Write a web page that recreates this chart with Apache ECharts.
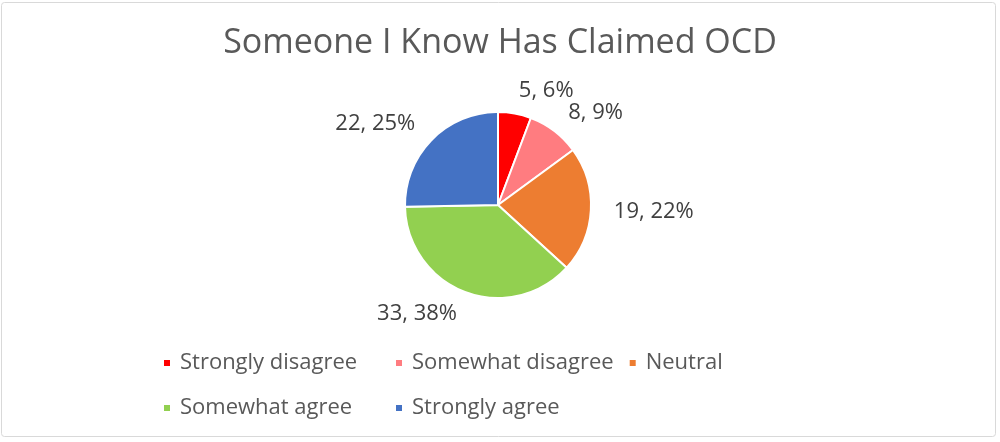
<!DOCTYPE html>
<html>
<head>
<meta charset="utf-8">
<script src="https://cdn.jsdelivr.net/npm/echarts@6/dist/echarts.min.js"></script>
<style>
html,body{margin:0;padding:0;background:#fff;}
#chart{width:1000px;height:442px;}
</style>
</head>
<body>
<div id="chart"></div>
<script>
const titleText = 'Someone I Know Has Claimed OCD';
const categories = ['Strongly disagree', 'Somewhat disagree', 'Neutral', 'Somewhat agree', 'Strongly agree'];
const counts = [5, 8, 19, 33, 22];
const percentLabels = ['6%', '9%', '22%', '38%', '25%'];
const colors = ['#FF0000', '#FF7C80', '#ED7D31', '#92D050', '#4472C4'];
const legendRow1 = ['Strongly disagree', 'Somewhat disagree', 'Neutral'];
const legendRow2 = ['Somewhat agree', 'Strongly agree'];

const FONT = 'Open Sans';
const chart = echarts.init(document.getElementById('chart'), null, {renderer: 'canvas'});

const legendCommon = {
  orient: 'horizontal',
  left: 162,
  padding: 0,
  icon: 'rect',
  itemWidth: 8,
  itemHeight: 8,
  itemGap: 14,
  selectedMode: false,
  textStyle: {
    fontFamily: FONT,
    fontSize: 22,
    color: '#595959',
    width: 200,
    lineHeight: 24,
    padding: [0, 0, 0, 4]
  }
};

chart.setOption({
  backgroundColor: '#ffffff',
  animation: false,
  color: colors,
  title: {
    text: titleText,
    left: 'center',
    top: 21,
    textStyle: {fontFamily: FONT, fontSize: 34, fontWeight: 'normal', color: '#595959'}
  },
  graphic: [{
    type: 'rect',
    shape: {x: 1.5, y: 2.5, width: 994, height: 434, r: 3},
    style: {fill: 'none', stroke: '#d9d9d9', lineWidth: 1},
    silent: true,
    z: -1
  }],
  legend: [
    Object.assign({}, legendCommon, {top: 351, data: legendRow1}),
    Object.assign({}, legendCommon, {top: 396, data: legendRow2})
  ],
  series: [{
    type: 'pie',
    center: [498, 205],
    radius: 93,
    startAngle: 90,
    clockwise: true,
    avoidLabelOverlap: false,
    labelLayout: {hideOverlap: false},
    itemStyle: {borderColor: '#ffffff', borderWidth: 2},
    label: {
      show: true,
      position: 'outside',
      distanceToLabelLine: 0,
      fontFamily: FONT,
      fontSize: 22,
      lineHeight: 18,
      color: '#404040',
      formatter: function (p) { return p.value + ', ' + percentLabels[p.dataIndex]; }
    },
    labelLine: {show: false, length: 23, length2: 0},
    emphasis: {disabled: true},
    data: categories.map(function (c, i) { return {name: c, value: counts[i]}; })
  }]
});
</script>
</body>
</html>
